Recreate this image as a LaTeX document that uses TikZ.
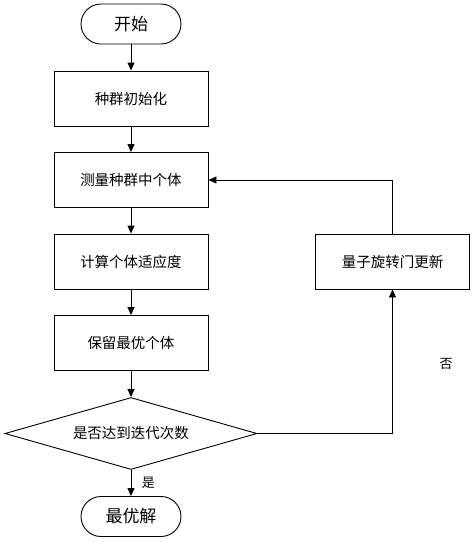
\documentclass[tikz,border=0pt]{standalone}
\usepackage{fontspec}
\newfontfamily\cjk{Noto Sans CJK SC}
\usetikzlibrary{shapes, arrows.meta}

\begin{document}
\begin{tikzpicture}[
    x = 1pt, y = 1pt,
    line width = 0.9pt,
    >={Triangle[length = 8pt, width = 7pt]},
    font = \cjk\fontsize{14.5}{16}\selectfont,
    terminal/.style = {rectangle,
      draw,
      rounded corners = 20pt,
      minimum width = 100pt,
      minimum height = 40pt,
      font = \cjk\fontsize{17}{19}\selectfont},
    process/.style = {rectangle,
      draw,
      minimum width = 154pt,
      minimum height = 55pt},
    decision/.style = {diamond,
      draw,
      aspect = 3.5,
      inner sep = 0pt,
      minimum width = 252pt,
      minimum height = 72pt}
    ]
    \useasboundingbox (0, 0) rectangle (474, -542);

    \node at (131, -24) [terminal, name = start] {开始};
    \node at (131, -98.5) [process, name = init] {种群初始化};
    \node at (131, -180) [process, name = measure] {测量种群中个体};
    \node at (131, -261.5) [process, name = fitness] {计算个体适应度};
    \node at (131, -343) [process, name = keep] {保留最优个体};
    \node at (131, -433.5) [decision, name = check] {是否达到迭代次数};
    \node at (131, -516.5) [terminal, name = best] {最优解};
    \node at (392.5, -261.5) [process, name = rotate] {量子旋转门更新};

    \draw [->] (start) to (init);
    \draw [->] (init) to (measure);
    \draw [->] (measure) to (fitness);
    \draw [->] (fitness) to (keep);
    \draw [->] (keep) to (check);
    \draw [->] (check) to node [right, xshift = 7pt, font = \cjk\fontsize{13}{15}\selectfont] {是} (best);

    \draw [->] (check.east) -| (rotate);
    \draw [->] (rotate) |- (measure);
    \node at (446, -364) [name = no, font = \cjk\fontsize{13}{15}\selectfont] {否};

  \end{tikzpicture}
\end{document}
